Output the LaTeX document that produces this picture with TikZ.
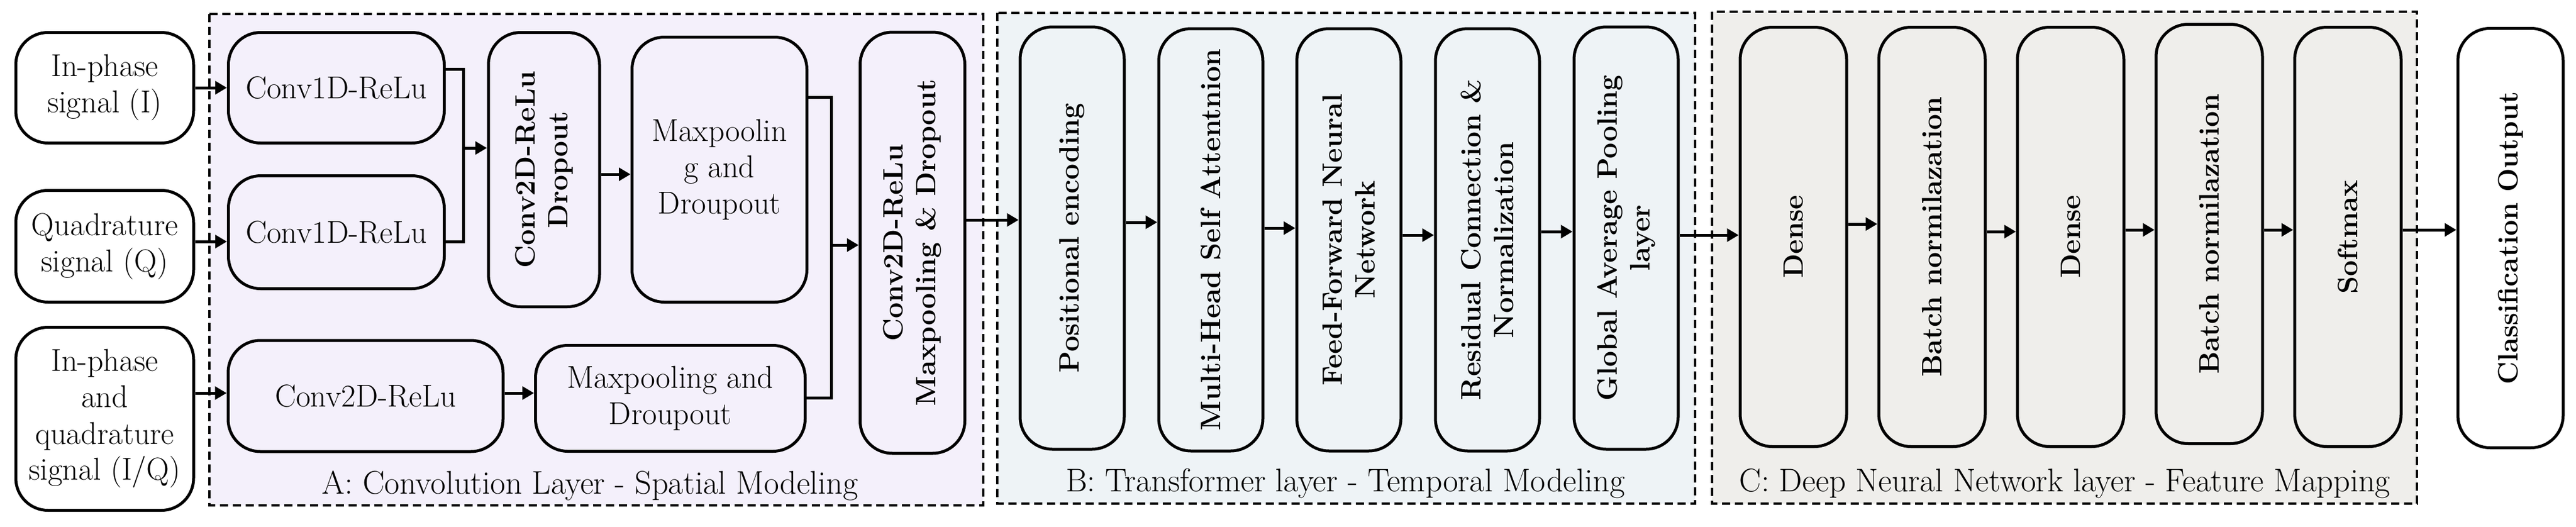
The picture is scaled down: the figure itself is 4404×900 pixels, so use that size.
\documentclass[tikz,border=0pt]{standalone}
\usepackage{fontspec}
\usetikzlibrary{arrows.meta}
\definecolor{fa}{HTML}{F4F0FB}
\definecolor{fb}{HTML}{EEF3F6}
\definecolor{fc}{HTML}{EFEEEB}
\tikzset{
  blk/.style={draw, line width=5pt, rounded corners=55pt, align=center, inner sep=2pt,
    font=\fontsize{54}{62}\selectfont},
  vblk/.style={blk, rotate=90, font=\fontsize{48}{56}\selectfont\bfseries},
  grp/.style={draw, dashed, line width=4pt, dash pattern=on 14pt off 8pt},
  grpcap/.style={font=\fontsize{56}{60}\selectfont},
  arr/.style={line width=5pt, -{Triangle[length=20pt,width=22pt]}},
  ln/.style={line width=5pt}
}
\begin{document}
\begin{tikzpicture}[x=1pt,y=-1pt]
\useasboundingbox (0,0) rectangle (4404,900);
\fill[white] (0,0) rectangle (4404,900);
% groups
\draw[grp, fill=fa] (358,24) rectangle (1681,864);
\draw[grp, fill=fb] (1705,22) rectangle (2898,861);
\draw[grp, fill=fc] (2927,20) rectangle (4132,861);
\node[grpcap] (capA) at (1009,830) {A: Convolution Layer - Spatial Modeling};
\node[grpcap] (capB) at (2300,827) {B: Transformer layer - Temporal Modeling};
\node[grpcap] (capC) at (3530,827) {C: Deep Neural Network layer - Feature Mapping};
% inputs
\node[blk, fill=white, minimum width=304pt, minimum height=189pt] (in1) at (179,150) {In-phase\\signal (I)};
\node[blk, fill=white, minimum width=304pt, minimum height=191pt] (in2) at (179,421) {Quadrature\\signal (Q)};
\node[blk, fill=white, minimum width=304pt, minimum height=313pt] (in3) at (179,716) {In-phase\\and\\quadrature\\signal (I/Q)};
% A
\node[blk, fill=fa, minimum width=369pt, minimum height=189pt] (c1a) at (575,150) {Conv1D-ReLu};
\node[blk, fill=fa, minimum width=369pt, minimum height=193pt] (c1b) at (575,397) {Conv1D-ReLu};
\node[vblk, fill=fa, minimum width=469pt, minimum height=190pt] (cd) at (930,290) {Conv2D-ReLu\\Dropout};
\node[blk, fill=fa, minimum width=299pt, minimum height=453pt] (mp) at (1230,290) {Maxpoolin\\g and\\Droupout};
\node[blk, fill=fa, minimum width=470pt, minimum height=190pt] (c2) at (625,677) {Conv2D-ReLu};
\node[blk, fill=fa, minimum width=461pt, minimum height=181pt] (mp2) at (1146,681) {Maxpooling and\\Droupout};
\node[vblk, fill=fa, minimum width=720pt, minimum height=179pt] (cf) at (1560,415) {Conv2D-ReLu\\Maxpooling \& Dropout};
% B
\node[vblk, fill=fb, minimum width=722pt, minimum height=178pt] (pe) at (1833,407) {Positional encoding};
\node[vblk, fill=fb, minimum width=722pt, minimum height=178pt] (mh) at (2070,410) {Multi-Head Self Attentnion};
\node[vblk, fill=fb, minimum width=722pt, minimum height=178pt] (ff) at (2306,410) {Feed-Forward Neural\\Network};
\node[vblk, fill=fb, minimum width=722pt, minimum height=178pt] (rc) at (2543,410) {Residual Connection \&\\Normalization};
\node[vblk, fill=fb, minimum width=722pt, minimum height=178pt] (gp) at (2780,407) {Global Average Pooling\\layer};
% C
\node[vblk, fill=fc, minimum width=717pt, minimum height=182pt] (d1) at (3066,405) {Dense};
\node[vblk, fill=fc, minimum width=717pt, minimum height=182pt] (b1) at (3303,405) {Batch normilazation};
\node[vblk, fill=fc, minimum width=717pt, minimum height=182pt] (d2) at (3540,405) {Dense};
\node[vblk, fill=fc, minimum width=717pt, minimum height=182pt] (b2) at (3777,400) {Batch normilazation};
\node[vblk, fill=fc, minimum width=717pt, minimum height=182pt] (sm) at (4014,405) {Softmax};
\node[vblk, fill=white, minimum width=717pt, minimum height=180pt] (co) at (4292,407) {Classification Output};
% coordinates
\coordinate (ja) at (792,118);
\coordinate (jb) at (1421,166);
% arrows A
\draw[arr] (in1.east) -- (c1a.west);
\draw[arr] (in2.east |- 0,413) -- (c1b.west |- 0,413);
\draw[arr] (in3.east |- 0,672) -- (c2.west |- 0,672);
\draw[ln] (c1a.east |- ja) -- (ja) -- (ja |- 0,413) -- (c1b.east |- 0,413);
\draw[arr] (ja |- 0,253) -- (cd.north |- 0,253);
\draw[arr] (cd.south |- 0,298) -- (mp.west |- 0,298);
\draw[arr] (c2.east |- 0,672) -- (mp2.west |- 0,672);
\draw[ln] (mp.east |- jb) -- (jb) -- (jb |- 0,680) -- (mp2.east |- 0,680);
\draw[arr] (jb |- 0,419) -- (cf.north |- 0,419);
% arrows B, C
\draw[arr] (cf.south |- 0,376) -- (pe.north |- 0,376);
\draw[arr] (pe.south |- 0,380) -- (mh.north |- 0,380);
\draw[arr] (mh.south |- 0,390) -- (ff.north |- 0,390);
\draw[arr] (ff.south |- 0,402) -- (rc.north |- 0,402);
\draw[arr] (rc.south |- 0,396) -- (gp.north |- 0,396);
\draw[arr] (gp.south |- 0,402) -- (d1.north |- 0,402);
\draw[arr] (d1.south |- 0,383) -- (b1.north |- 0,383);
\draw[arr] (b1.south |- 0,396) -- (d2.north |- 0,396);
\draw[arr] (d2.south |- 0,393) -- (b2.north |- 0,393);
\draw[arr] (b2.south |- 0,393) -- (sm.north |- 0,393);
\draw[arr] (sm.south |- 0,393) -- (co.north |- 0,393);
\end{tikzpicture}
\end{document}
